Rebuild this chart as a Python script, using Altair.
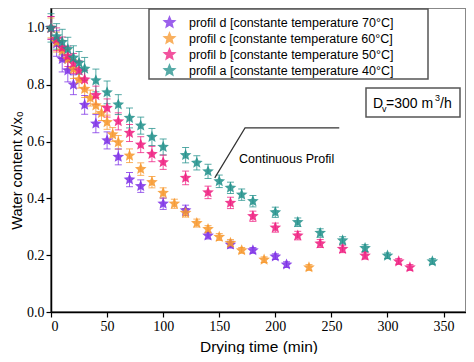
import altair as alt
import pandas as pd

# ---------------- data ----------------
t_d = [0, 5, 10, 15, 20, 30, 40, 50, 60, 70, 80, 100, 120, 140, 160, 180, 200, 210]
v_d = [1.0, 0.945, 0.89, 0.85, 0.80, 0.729, 0.663, 0.604, 0.546, 0.466, 0.443, 0.381,
       0.358, 0.269, 0.237, 0.217, 0.195, 0.167]
e_d = [0.04, 0.045, 0.045, 0.04, 0.035, 0.033, 0.032, 0.03, 0.028, 0.025, 0.022, 0.02,
       0.018, 0.012, 0.012, 0.01, 0.01, 0.01]

t_c = [0, 5, 10, 15, 20, 25, 30, 35, 40, 45, 50, 55, 60, 70, 80, 90, 100, 110, 120,
       130, 140, 150, 160, 170, 190, 230]
v_c = [1.0, 0.95, 0.92, 0.89, 0.855, 0.818, 0.785, 0.753, 0.727, 0.70, 0.668, 0.625,
       0.597, 0.55, 0.503, 0.457, 0.419, 0.381, 0.349, 0.313, 0.292, 0.264, 0.243,
       0.217, 0.184, 0.157]
e_c = [0.035, 0.035, 0.035, 0.035, 0.033, 0.03, 0.03, 0.028, 0.028, 0.026, 0.025, 0.024,
       0.024, 0.024, 0.022, 0.02, 0.018, 0.016, 0.015, 0.014, 0.012, 0.012, 0.012,
       0.01, 0.01, 0.01]

t_b = [0, 5, 10, 15, 20, 25, 30, 40, 50, 60, 70, 80, 90, 100, 120, 140, 160, 180, 200,
       220, 240, 260, 280, 310, 320]
v_b = [1.0, 0.96, 0.93, 0.90, 0.875, 0.85, 0.818, 0.763, 0.718, 0.671, 0.630, 0.589,
       0.556, 0.527, 0.472, 0.421, 0.384, 0.337, 0.297, 0.269, 0.241, 0.222, 0.198,
       0.178, 0.157]
e_b = [0.04, 0.04, 0.038, 0.036, 0.035, 0.034, 0.033, 0.032, 0.032, 0.03, 0.03, 0.028,
       0.027, 0.025, 0.024, 0.022, 0.02, 0.018, 0.016, 0.015, 0.014, 0.013, 0.012,
       0.01, 0.01]

t_a = [0, 5, 10, 15, 20, 25, 30, 40, 50, 60, 70, 80, 90, 100, 120, 130, 140, 150, 160,
       170, 180, 200, 220, 240, 260, 280, 300, 340]
v_a = [1.0, 0.97, 0.95, 0.925, 0.895, 0.877, 0.856, 0.815, 0.773, 0.730, 0.683, 0.656,
       0.616, 0.581, 0.552, 0.525, 0.495, 0.46, 0.437, 0.413, 0.39, 0.351, 0.316,
       0.278, 0.252, 0.225, 0.198, 0.178]
e_a = [0.05, 0.045, 0.045, 0.042, 0.042, 0.04, 0.04, 0.04, 0.04, 0.035, 0.035, 0.03,
       0.03, 0.028, 0.027, 0.025, 0.025, 0.022, 0.02, 0.02, 0.02, 0.018, 0.015, 0.015,
       0.013, 0.012, 0.01, 0.01]

labels = [
    "profil d [constante temperature 70°C]",
    "profil c [constante temperature 60°C]",
    "profil b [constante temperature 50°C]",
    "profil a [constante temperature 40°C]",
]
colors = ["#7a2be6", "#f7962a", "#ee1a7e", "#1f8f8a"]

ann_t = [146, 173, 257]
ann_v = [0.472, 0.648, 0.648]
ann_text = "Continuous Profil"
ann_text_t = [167.6]
ann_text_v = [0.524]

x_ticks = list(range(0, 376, 25))
y_ticks = [round(i * 0.1, 1) for i in range(11)]

# ---------------- build table ----------------
rows = []
for lab, ts, vs, es in zip(labels, [t_d, t_c, t_b, t_a], [v_d, v_c, v_b, v_a],
                           [e_d, e_c, e_b, e_a]):
    for t, v, e in zip(ts, vs, es):
        rows.append({"t": t, "v": v, "lo": v - e, "hi": v + e, "series": lab})
df = pd.DataFrame(rows)

STAR = ("M0,-1 L0.265,-0.364 L0.951,-0.309 L0.428,0.139 L0.588,0.809 L0,0.45 "
        "L-0.588,0.809 L-0.428,0.139 L-0.951,-0.309 L-0.265,-0.364 Z")

color_scale = alt.Scale(domain=labels, range=colors)
color_legend = alt.Legend(
    title=None,
    orient="none",
    legendX=112,
    legendY=8,
    padding=0,
    symbolType=STAR,
    symbolSize=120,
    labelFont="Liberation Sans",
    labelFontSize=12.5,
    labelColor="black",
    labelOffset=13,
    rowPadding=0,
    labelLimit=400,
)
color_enc = alt.Color("series:N", scale=color_scale, sort=labels, legend=color_legend)

x_scale = alt.Scale(domain=[0, 370], nice=False, zero=True)
y_scale = alt.Scale(domain=[0, 1.07], nice=False)

x_axis = alt.Axis(
    values=x_ticks,
    labelExpr="datum.value % 50 === 0 ? datum.value : ''",
    tickSize=alt.condition("datum.value % 50 === 0", alt.value(5), alt.value(3)),
    title="Drying time (min)",
    titleFontSize=15.5,
    titleY=39,
    titleBaseline="alphabetic",
    grid=False,
)
y_axis = alt.Axis(
    values=y_ticks,
    labelExpr="round(datum.value * 10) % 2 === 0 ? format(datum.value, '.1f') : ''",
    tickSize=alt.condition("round(datum.value * 10) % 2 === 0", alt.value(5), alt.value(3)),
    title="Water content x/x₀",
    titleFontSize=14.5,
    titleAngle=270,
    titleX=-30,
    titleY=162,
    titleBaseline="alphabetic",
    titleAlign="center",
    grid=False,
)

base = alt.Chart(df)
one = pd.DataFrame({"a": [0]})

legend_box = alt.Chart(one).mark_rect(
    fill="white", stroke="#555555", strokeWidth=1.5
).encode(x=alt.value(98), x2=alt.value(377), y=alt.value(1), y2=alt.value(71))

rules = base.mark_rule(strokeWidth=1, opacity=0.75).encode(
    x=alt.X("t:Q", scale=x_scale, axis=x_axis),
    y=alt.Y("lo:Q", scale=y_scale, axis=y_axis),
    y2="hi:Q",
    color=color_enc,
)
caps_lo = base.mark_tick(orient="horizontal", size=7, thickness=1, opacity=0.75).encode(
    x="t:Q", y="lo:Q", color=color_enc,
)
caps_hi = base.mark_tick(orient="horizontal", size=7, thickness=1, opacity=0.75).encode(
    x="t:Q", y="hi:Q", color=color_enc,
)
points = base.mark_point(shape=STAR, filled=True, size=150, opacity=0.85,
                         strokeWidth=0.8).encode(
    x="t:Q", y="v:Q", color=color_enc,
)

ann_df = pd.DataFrame({"t": ann_t, "v": ann_v})
ann_line = alt.Chart(ann_df).mark_line(color="#333333", strokeWidth=1.2).encode(
    x="t:Q", y="v:Q"
)
ann_lbl = alt.Chart(pd.DataFrame({"t": ann_text_t, "v": ann_text_v})).mark_text(
    text=ann_text, align="left", baseline="alphabetic", font="Liberation Sans",
    fontSize=12.5, color="black"
).encode(x="t:Q", y="v:Q")

dv_box = alt.Chart(one).mark_rect(fill="white", stroke="#555555", strokeWidth=1.5).encode(
    x=alt.value(315), x2=alt.value(409), y=alt.value(80), y2=alt.value(109)
)


def txt(s, x, y, size):
    return alt.Chart(one).mark_text(
        text=s, align="left", baseline="alphabetic", font="Liberation Sans",
        fontSize=size, color="black"
    ).encode(x=alt.value(x), y=alt.value(y))


dv = [
    txt("D", 322, 100, 14),
    txt("v", 331, 104, 9),
    txt("=300 m", 335, 100, 14),
    txt("3", 384, 93, 9),
    txt("/h", 389, 100, 14),
]

chart = alt.layer(
    legend_box, rules, caps_lo, caps_hi, points, ann_line, ann_lbl, dv_box, *dv
).properties(
    width=415,
    height=304,
    autosize=alt.AutoSizeParams(type="none"),
    padding={"left": 43, "top": 0, "right": 0, "bottom": 42},
).configure_view(
    stroke="#888888", strokeWidth=2
).configure_axis(
    domainColor="black",
    domainWidth=1.5,
    tickColor="black",
    tickWidth=1.2,
    labelFont="Liberation Serif",
    labelFontSize=14,
    labelColor="black",
    titleFont="Liberation Sans",
    titleFontWeight="normal",
    titleColor="black",
    labelPadding=2,
)

chart.save("out.html", embed_options={"renderer": "svg", "actions": False})
